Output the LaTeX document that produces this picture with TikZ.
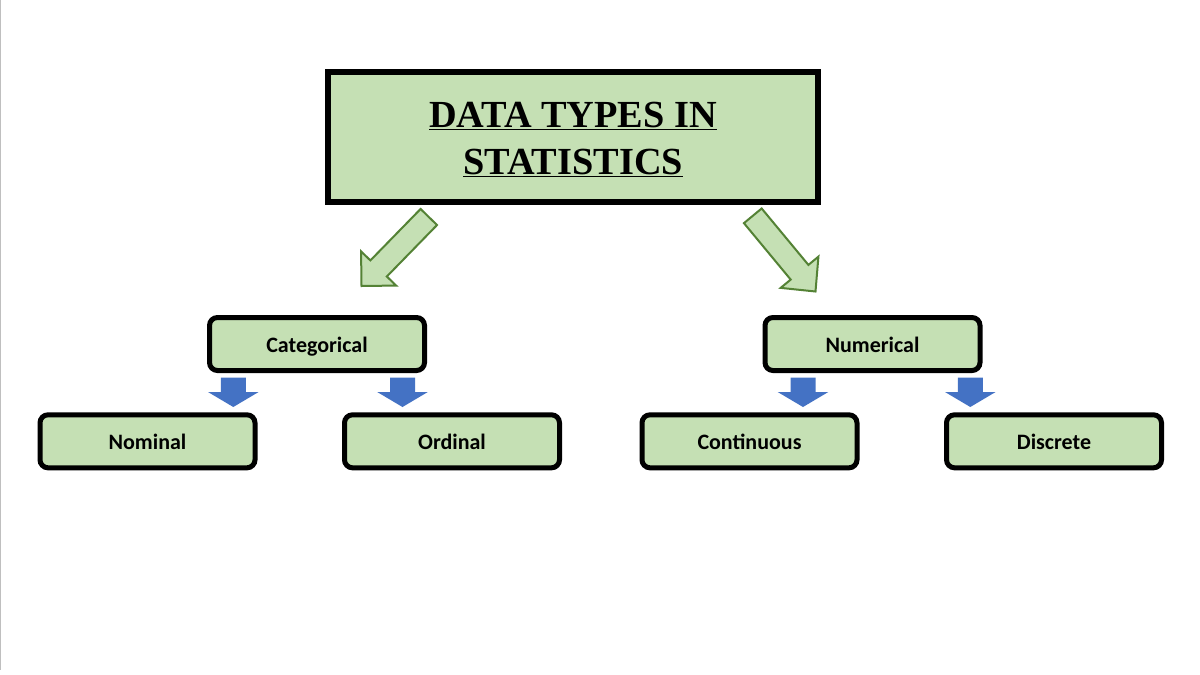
\documentclass[tikz,border=0pt]{standalone}
\usepackage{fontspec}
\setmainfont{Liberation Serif}
\newfontfamily\labelfont{Carlito}
\usetikzlibrary{calc}

\definecolor{boxgreen}{HTML}{C5E0B4}
\definecolor{linegreen}{HTML}{548235}
\definecolor{arrowblue}{HTML}{4472C4}
\definecolor{edgegray}{HTML}{BFBFBF}

% block arrow: style, tail, tip, shaft half width, head half width, head length
\newcommand{\blockarrow}[6]{%
    \coordinate (ab) at ($(#3)!#6!(#2)$);
    \filldraw[#1] ($(#2)!#4!90:(#3)$) -- ($(ab)!#4!90:(#3)$) -- ($(ab)!#5!90:(#3)$) -- (#3)
        -- ($(ab)!#5!-90:(#3)$) -- ($(ab)!#4!-90:(#3)$) -- ($(#2)!#4!-90:(#3)$) -- cycle;
}

\begin{document}
\begin{tikzpicture}[
            x=1pt, y=-1pt,
            titlebox/.style={draw=black, fill=boxgreen, line width=6pt, minimum width=490pt, minimum height=130pt,
                inner sep=0pt, align=center, font=\bfseries\fontsize{38.3}{47}\selectfont},
            typebox/.style={draw=black, fill=boxgreen, line width=5pt, rounded corners=8pt, minimum width=215pt,
                minimum height=53pt, inner sep=0pt, text height=16.5pt, text depth=0pt,
                font=\labelfont\bfseries\fontsize{22}{26}\selectfont},
            bigarrow/.style={fill=boxgreen, draw=linegreen, line width=2pt, line join=miter},
            smallarrow/.style={fill=arrowblue, draw=none},
        ]
        \useasboundingbox (0,0) rectangle (1200,675);
        \fill[white] (0,0) rectangle (1200,675);
        \draw[edgegray, line width=1.4pt] (0.7,0) -- (0.7,670);

        \node[titlebox] (title) at (573,137) {\rule{0pt}{30pt}\underline{DATA TYPES IN}\\\underline{STATISTICS}};

        \node[typebox] (cat) at (317,344) {Categorical};
        \node[typebox] (num) at (872.5,344) {Numerical};
        \node[typebox] (nom) at (147.5,441.3) {Nominal};
        \node[typebox] (ord) at (452,441.3) {Ordinal};
        \node[typebox] (cont) at (749.5,441.3) {Continuous};
        \node[typebox] (disc) at (1054,441.3) {Discrete};

        \coordinate (catfrom) at (428.8,217);
        \coordinate (catto) at (361.5,286);
        \coordinate (numfrom) at (752.8,215.8);
        \coordinate (numto) at (815.5,291.5);

        \blockarrow{bigarrow}{catfrom}{catto}{11.5pt}{24.5pt}{24.5pt}
        \blockarrow{bigarrow}{numfrom}{numto}{11.5pt}{24.5pt}{25pt}

        \coordinate (nomfrom) at (233.3,377.5);
        \coordinate (nomto) at (233.3,407);
        \coordinate (ordfrom) at (402.5,377.5);
        \coordinate (ordto) at (402.5,407);
        \coordinate (contfrom) at (803,377.5);
        \coordinate (contto) at (803,407);
        \coordinate (discfrom) at (970.3,377.5);
        \coordinate (discto) at (970.3,407);

        \blockarrow{smallarrow}{nomfrom}{nomto}{12.5pt}{25.3pt}{15pt}
        \blockarrow{smallarrow}{ordfrom}{ordto}{12.5pt}{25.3pt}{15pt}
        \blockarrow{smallarrow}{contfrom}{contto}{12.5pt}{25.3pt}{15pt}
        \blockarrow{smallarrow}{discfrom}{discto}{12.5pt}{25.3pt}{15pt}
    \end{tikzpicture}
\end{document}
